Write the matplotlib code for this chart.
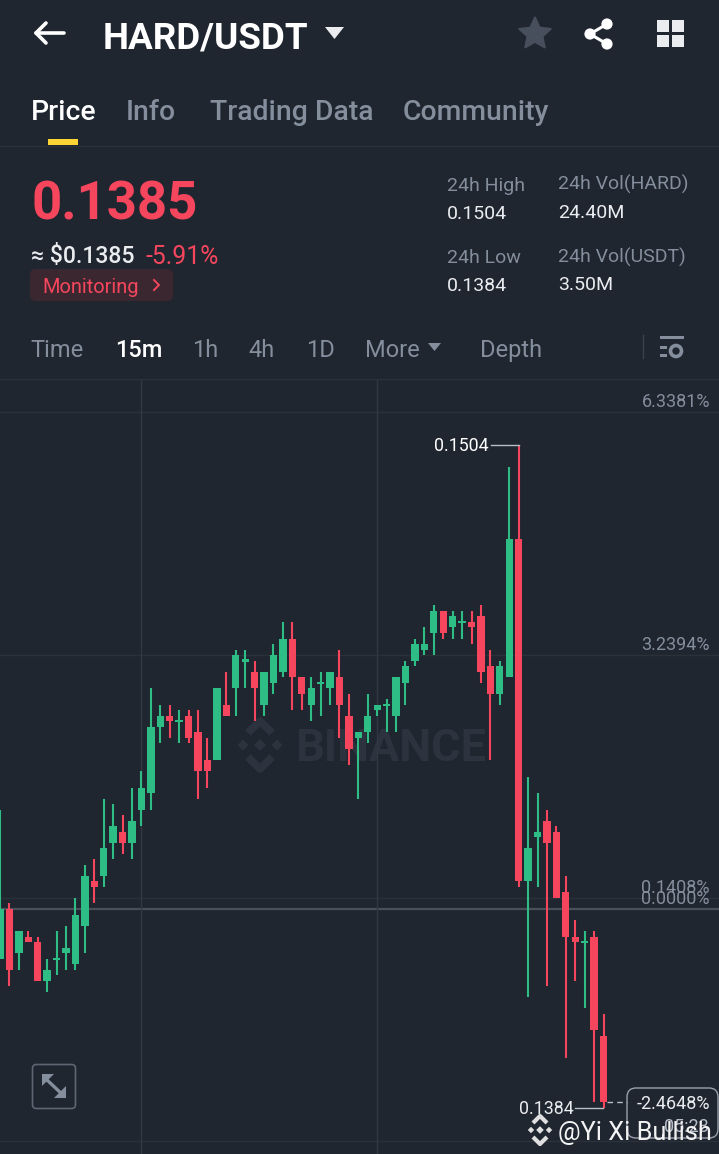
import matplotlib
matplotlib.use("Agg")
import matplotlib.pyplot as plt
import numpy as np
from matplotlib.patches import FancyBboxPatch, Rectangle, Polygon, Circle

plt.rcParams['font.family'] = ['Roboto', 'DejaVu Sans']

# ---------- data: prices in 1e-4 USDT ----------
opens  = [1411,1420,1412,1415,1414,1407,1411,1412,1410,1417,1425,1426,1432,1434,1432,1438,1441,1453,1455,1454,1455,1452,1447,1447,1457,1460,1465,1463,1457,1461,1463,1469,1462,1457,1461,1460,1462,1455,1451,1452,1456,1457,1455,1461,1465,1467,1470,1474,1471,1472,1472,1473,1464,1459,1462,1487,1425,1433,1436,1434,1423,1415,1414,1415,1397]
highs  = [1438,1421,1416,1416,1415,1411,1416,1417,1422,1428,1429,1440,1439,1437,1442,1445,1460,1457,1457,1456,1456,1456,1451,1460,1463,1467,1467,1465,1463,1468,1472,1472,1462,1462,1463,1463,1467,1459,1452,1459,1457,1458,1462,1465,1469,1471,1475,1474,1474,1474,1474,1475,1467,1465,1500,1504,1444,1441,1438,1435,1426,1418,1416,1416,1401]
lows   = [1411,1406,1409,1414,1407,1405,1408,1409,1409,1412,1421,1424,1429,1430,1429,1435,1438,1450,1451,1450,1450,1440,1442,1447,1455,1455,1460,1454,1455,1459,1462,1456,1456,1454,1455,1457,1451,1446,1440,1450,1455,1452,1452,1457,1464,1466,1466,1469,1469,1469,1468,1461,1447,1457,1462,1424,1404,1424,1406,1422,1393,1407,1402,1385,1384]
closes = [1420,1409,1416,1414,1407,1409,1411,1413,1419,1426,1424,1431,1435,1432,1436,1442,1453,1455,1454,1454,1451,1445,1445,1460,1455,1466,1465,1460,1463,1466,1469,1462,1459,1460,1461,1463,1457,1449,1452,1455,1457,1457,1462,1464,1468,1468,1474,1470,1473,1472,1471,1463,1459,1464,1487,1425,1431,1434,1432,1422,1415,1414,1414,1398,1385]
base_price = 0.1420
grid_pcts = [6.3381, 3.2394, 0.1408, -2.9578]
pct_labels = ['6.3381%', '3.2394%', '0.1408%', '0.0000%']
tabs = ['Price', 'Info', 'Trading Data', 'Community']
frames = ['Time', '15m', '1h', '4h', '1D', 'More', 'Depth']

BG = '#1f2630'; GREEN = '#2ebd85'; RED = '#f6465d'
GRID = '#2b3139'; GRAY = '#848e9c'; WHITE = '#eaecef'
W, H = 719, 1154

fig = plt.figure(figsize=(W/100, H/100), dpi=100, facecolor=BG)

def pixel_axes(z):
    a = fig.add_axes([0, 0, 1, 1], zorder=z)
    a.set_xlim(0, W); a.set_ylim(H, 0); a.axis('off'); a.patch.set_alpha(0)
    return a

# ---------- watermark layer, beneath the candles ----------
wm = pixel_axes(0)

# ---------- chart axes ----------
top_px, bot_px = 379, H
PX = 55200.0   # pixels per price unit
Y0 = 909.0
ax = fig.add_axes([0, 0, 1, (bot_px-top_px)/H], zorder=1)
ax.patch.set_alpha(0)
ax.set_xlim(0, W/9.43)
ax.set_ylim(base_price-(bot_px-Y0)/PX, base_price+(Y0-top_px)/PX)
for s in ax.spines.values():
    s.set_visible(False)
ax.set_xticks([]); ax.set_yticks([])

for p in grid_pcts:
    ax.axhline(base_price*(1+p/100), color=GRID, lw=1.0, zorder=1)
ax.axhline(base_price, color='#4a505a', lw=1.6, zorder=1)
for i in (15, 40):
    ax.axvline(i, color='#323843', lw=1.0, zorder=1)
ax.axhline(base_price+(Y0-379.5)/PX, color=GRID, lw=1.0, zorder=1)

for i, (o, h, l, c) in enumerate(zip(opens, highs, lows, closes)):
    col = GREEN if c >= o else RED
    o, h, l, c = o/1e4, h/1e4, l/1e4, c/1e4
    ax.vlines(i, l, h, color=col, lw=1.5, capstyle='butt', zorder=3)
    b = min(o, c); ht = abs(c-o)
    if ht == 0:
        b -= 0.00002; ht = 0.00004
    ax.bar(i, ht, bottom=b, width=0.78, color=col, linewidth=0, zorder=3)

# ---------- overlay in pixel coordinates ----------
ui = pixel_axes(5)

def T(x, y, s, size, color=WHITE, weight='normal', ha='left', target=None, **kw):
    return (target or ui).text(x, y + size*0.15, s, fontsize=size, color=color, fontweight=weight, ha=ha, va='center', **kw)

# header
ui.plot([36, 64], [33, 33], color='white', lw=2.6, solid_capstyle='round')
ui.plot([46, 36, 46], [23, 33, 43], color='white', lw=2.6, solid_capstyle='round', solid_joinstyle='round')
T(103, 35, 'HARD/USDT', 26.5, 'white', 'bold')
ui.add_patch(Polygon([[325, 27], [344, 27], [334.5, 39]], closed=True, fc='#eaecef', ec='none'))
ang = np.deg2rad(90 + 36*np.arange(10))
rad = np.where(np.arange(10) % 2 == 0, 16.5, 7.8)
ui.add_patch(Polygon(np.c_[535 + rad*np.cos(ang), 34 - rad*np.sin(ang)], closed=True, fc='#474f5c', ec='#474f5c', lw=1.5, joinstyle='round'))
ui.plot([607, 590, 607], [24, 34, 44], color='white', lw=2.2)
for cx, cy in ((607, 24), (590, 34), (607, 44)):
    ui.add_patch(Circle((cx, cy), 5.6, fc='white', ec='none'))
for x0 in (657, 672):
    for y0 in (20, 35):
        ui.add_patch(Rectangle((x0, y0), 11.5, 11.5, fc='#eaecef', ec='none'))

# tabs
for x, s, c in zip((31, 126, 210, 403), tabs, ('white', GRAY, GRAY, GRAY)):
    T(x, 109, s, 20.4, c, 'medium')
ui.add_patch(Rectangle((48, 139), 30, 6, fc='#fcd535', ec='none'))
ui.plot([0, W], [145.5, 145.5], color=GRID, lw=1)

# price block
T(31, 199, '0.1385', 38, RED, 'bold')
T(31, 254, '≈ $0.1385', 16.6, WHITE, 'medium')
T(146, 254, '-5.91%', 17.8, RED)
ui.add_patch(FancyBboxPatch((35, 274), 133, 22, boxstyle='round,pad=5,rounding_size=6', fc='#3b2730', ec='none'))
T(42, 285, 'Monitoring', 14.4, RED)
ui.plot([154, 159, 154], [280, 285, 290], color=RED, lw=1.4)

T(447, 184, '24h High', 14, GRAY)
T(447, 212, '0.1504', 14, WHITE)
T(447, 256, '24h Low', 14, GRAY)
T(447, 284, '0.1384', 14, WHITE)
T(558, 182, '24h Vol(HARD)', 14, GRAY)
T(558, 211, '24.40M', 14, WHITE)
T(558, 255, '24h Vol(USDT)', 14, GRAY)
T(558, 283, '3.50M', 14, WHITE)

# time frames
for x, s in zip((30, 115, 192, 248, 306, 365, 480), frames):
    T(x, 348, s, 17, 'white' if s == '15m' else GRAY, 'medium' if s == '15m' else 'normal')
ui.add_patch(Polygon([[428, 343], [441, 343], [434.5, 351]], closed=True, fc=GRAY, ec='none'))
ui.plot([643, 643], [335, 358], color='#3a414c', lw=1)
ui.add_patch(Rectangle((660, 336), 24, 3, fc=GRAY, ec='none'))
ui.add_patch(Rectangle((660, 346), 7, 3, fc=GRAY, ec='none'))
ui.add_patch(Rectangle((660, 354), 7, 3, fc=GRAY, ec='none'))
ui.add_patch(Circle((676, 351), 5.5, fc=BG, ec=GRAY, lw=2.6))

# axis labels
for y, s in zip((400, 643, 886, 897), pct_labels):
    T(710, y, s, 13, GRAY, ha='right')

# watermark
WM = '#2d333e'
def diamond(a, cx, cy, r, fc):
    a.add_patch(Polygon([[cx-r, cy], [cx, cy-r], [cx+r, cy], [cx, cy+r]], closed=True, fc=fc, ec='none'))
for cx, cy, r in ((260, 745, 6), (243, 745, 5.5), (277, 745, 5.5)):
    diamond(wm, cx, cy, r, WM)
wm.plot([248, 260, 272], [733, 721, 733], color=WM, lw=5.5, solid_capstyle='butt')
wm.plot([248, 260, 272], [757, 769, 757], color=WM, lw=5.5, solid_capstyle='butt')
T(295, 744, 'BINANCE', 32.5, WM, 'bold', target=wm)

# high / low markers
T(489, 444, '0.1504', 12.8, 'white', ha='right')
ui.plot([491, 519], [445, 445], color='#b7bdc6', lw=1)
T(574, 1107, '0.1384', 12.8, WHITE, ha='right')
ui.plot([575, 603], [1107.5, 1107.5], color='#b7bdc6', lw=1)
ui.plot([607, 627], [1102, 1102], color='#b7bdc6', lw=1, ls=(0, (4, 3)))

# current-price box
ui.add_patch(FancyBboxPatch((632, 1093), 81, 40, boxstyle='round,pad=5,rounding_size=9', fc=BG, ec='#9aa1ac', lw=1))
T(710, 1102, '-2.4648%', 13, WHITE, ha='right')
T(709, 1125, '05:23', 13, '#b7bdc6', ha='right')

# expand button
ui.add_patch(FancyBboxPatch((36, 1068), 36, 37, boxstyle='round,pad=3.5,rounding_size=4', fc=BG, ec='#5e6673', lw=1.2))
ui.plot([46, 64], [1079, 1096], color=GRAY, lw=2.4)
ui.add_patch(Polygon([[42, 1074], [54, 1074], [42, 1086]], closed=True, fc=GRAY, ec='none'))
ui.add_patch(Polygon([[66, 1098], [54, 1098], [66, 1086]], closed=True, fc=GRAY, ec='none'))

# author stamp
for cx, cy, r in ((540, 1130, 3.8), (531, 1130, 3.2), (549, 1130, 3.2)):
    diamond(ui, cx, cy, r, '#e0e0e0')
ui.plot([533, 540, 547], [1123, 1116, 1123], color='#e0e0e0', lw=3, solid_capstyle='butt')
ui.plot([533, 540, 547], [1137, 1144, 1137], color='#e0e0e0', lw=3, solid_capstyle='butt')
T(558, 1130, '@Yi Xi Bullish', 18.2, '#f2f2f2')

fig.savefig('out.png', dpi=100, facecolor=BG)
